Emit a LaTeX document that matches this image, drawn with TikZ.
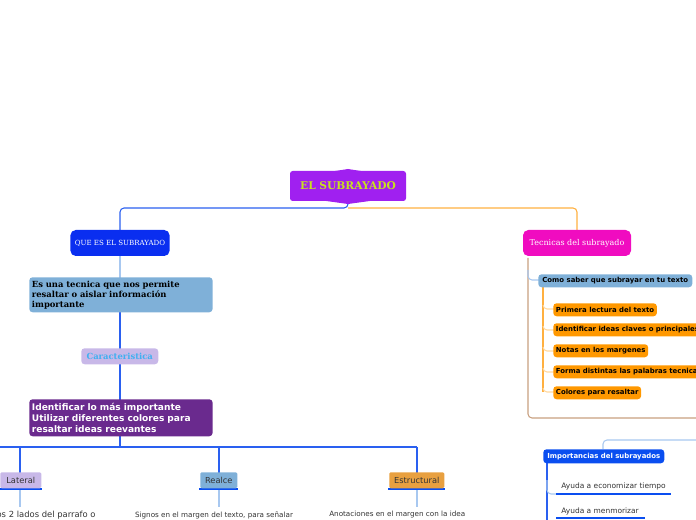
\documentclass[tikz,border=0pt]{standalone}
\usepackage{fontspec}
\setmainfont{DejaVu Sans}
\newfontfamily\serifb{DejaVu Serif}
\usetikzlibrary{shapes.geometric}
\definecolor{tpurple}{HTML}{A020F0}
\definecolor{tyel}{HTML}{C8E020}
\definecolor{qblue}{HTML}{0A2EF0}
\definecolor{lblue}{HTML}{7FB0D8}
\definecolor{lav}{HTML}{C8B8E8}
\definecolor{cyanish}{HTML}{40B0F0}
\definecolor{dpurple}{HTML}{6A2A8E}
\definecolor{orng}{HTML}{E8A040}
\definecolor{magen}{HTML}{F00CC0}
\definecolor{itor}{HTML}{FF9800}
\definecolor{impblue}{HTML}{0A4EF0}
\definecolor{lineblue}{HTML}{2A60F0}
\definecolor{paleblue}{HTML}{A8C8F0}
\definecolor{lineor}{HTML}{FFB040}
\definecolor{paleor}{HTML}{FFD8A0}
\definecolor{tan}{HTML}{C8A080}
\tikzset{
 box/.style={rounded corners=2.5pt,inner sep=2pt,anchor=north west},
 sm/.style={font=\fontsize{5.2pt}{6pt}\selectfont\bfseries},
 ln/.style={line width=0.8pt,rounded corners=3pt},
}
\begin{document}
\begin{tikzpicture}[x=0.75pt,y=-0.75pt]
\useasboundingbox (0,0) rectangle (696,520);
% connectors first
\draw[ln,lineblue] (348,203) -- (348,208) -- (120,208) -- (120,232);
\draw[ln,lineor] (348,208) -- (577,208) -- (577,232);
\draw[ln,paleblue] (120,256) -- (120,278);
\draw[ln,lineblue] (120,312) -- (120,349);
\draw[ln,lineblue] (120,364) -- (120,400);
\draw[line width=1.4pt,lineblue] (120,436) -- (120,447);
\draw[ln,lineblue] (0,447) -- (417,447);
\draw[ln,lineblue] (20,447) -- (20,473);
\draw[ln,lineblue] (219,447) -- (219,473);
\draw[ln,lineblue] (417,447) -- (417,473);
\draw[line width=0.8pt,paleblue] (20,489) -- (20,507) (219,489) -- (219,507) (417,489) -- (417,507);
\draw[line width=2pt,impblue] (0,489) -- (42,489) (199,489) -- (238,489) (388,489) -- (445,489);
% right side
\draw[ln,tan] (528,258) -- (528,418) -- (696,418);
\draw[ln,paleblue] (528,270) -- (528,280) -- (539,280);
\draw[ln,lineor] (543,287) -- (543,392);
\foreach \y in {309,330,351,372,392} \draw[ln,paleor] (543,\y-4) -- (543,\y) -- (554,\y);
\draw[ln,paleblue] (603,449) -- (603,440) -- (696,440);
\draw[line width=1.4pt,lineblue] (547,463) -- (547,520);
\draw[ln,paleblue] (547,480) -- (547,494) -- (558,494);
\draw[line width=2pt,impblue] (556,494) -- (671,494) (556,518) -- (645,518);
% nodes
\node[fill=tpurple,draw=none,minimum width=116*0.75pt,minimum height=30*0.75pt,rounded corners=2pt,
 font=\serifb\fontsize{8pt}{8pt}\selectfont\bfseries,text=tyel] (title) at (348,186) {EL SUBRAYADO};
\fill[tpurple] (290,178) -- (348,169) -- (406,178) -- cycle (290,196) -- (348,204) -- (406,196) -- cycle;
\node[fill=qblue,text=white,rounded corners=4pt,minimum width=97*0.75pt,minimum height=26*0.75pt,
 font=\serifb\fontsize{5.3pt}{6pt}\selectfont] (que) at (120,243) {QUE ES EL SUBRAYADO};
\node[box,fill=lblue,text width=178*0.75pt,minimum height=35*0.75pt,align=left,
 font=\serifb\fontsize{6.3pt}{7.5pt}\selectfont\bfseries] (es) at (29,277) {Es una tecnica que nos permite\\resaltar o aislar información\\importante};
\node[box,fill=lav,text=cyanish,minimum width=77*0.75pt,minimum height=16*0.75pt,
 font=\serifb\fontsize{6.3pt}{7pt}\selectfont\bfseries] (car) at (81,348) {Caracteristica};
\node[box,fill=dpurple,text=white,text width=178*0.75pt,minimum height=37*0.75pt,align=left,
 font=\fontsize{6.8pt}{8.2pt}\selectfont\bfseries] (ident) at (29,399) {Identificar lo más importante\\Utilizar diferentes colores para\\resaltar ideas reevantes};
\node[box,fill=lav,rounded corners=1pt,minimum width=41*0.75pt,minimum height=16*0.75pt,font=\fontsize{6.2pt}{7pt}\selectfont,text=black!80] (lat) at (0,472) {Lateral};
\node[box,fill=lblue,rounded corners=1pt,minimum width=37*0.75pt,minimum height=16*0.75pt,font=\fontsize{6.2pt}{7pt}\selectfont,text=black!80] (real) at (200,472) {Realce};
\node[box,fill=orng,rounded corners=1pt,minimum width=55*0.75pt,minimum height=16*0.75pt,font=\fontsize{6.2pt}{7pt}\selectfont,text=black!80] (est) at (389,472) {Estructural};
\node[anchor=west,inner sep=0,font=\fontsize{6.3pt}{7pt}\selectfont,text=black!80] (t1) at (-6,515) {los 2 lados del parrafo o};
\node[inner sep=0,font=\fontsize{5.4pt}{6pt}\selectfont,text=black!80] (t2) at (214,515) {Signos en el margen del texto, para señalar};
\node[anchor=west,inner sep=0,font=\fontsize{5.4pt}{6pt}\selectfont,text=black!80] (t3) at (329,515) {Anotaciones en el margen con la idea};
\node[fill=magen,text=white,rounded corners=4pt,minimum width=108*0.75pt,minimum height=26*0.75pt,
 font=\serifb\fontsize{6pt}{7pt}\selectfont] (tec) at (577,243) {Tecnicas del subrayado};
\node[box,fill=lblue,minimum width=154*0.75pt,minimum height=13*0.75pt,sm] (como) at (538,274) {Como saber que subrayar en tu texto};
\node[box,fill=itor,minimum height=13*0.75pt,sm] (i1) at (553,303) {Primera lectura del texto};
\node[box,fill=itor,minimum height=13*0.75pt,sm] (i2) at (553,323) {Identificar ideas claves o principales};
\node[box,fill=itor,minimum height=13*0.75pt,sm] (i3) at (553,344) {Notas en los margenes};
\node[box,fill=itor,minimum height=13*0.75pt,sm] (i4) at (553,365) {Forma distintas las palabras tecnicas};
\node[box,fill=itor,minimum height=13*0.75pt,sm] (i5) at (553,386) {Colores para resaltar};
\node[box,fill=impblue,text=white,minimum width=121*0.75pt,minimum height=14*0.75pt,sm] (imp) at (543,449) {Importancias del subrayados};
\node[anchor=west,inner sep=0,font=\fontsize{5.6pt}{6pt}\selectfont,text=black!80] (a1) at (561,486) {Ayuda a economizar tiempo};
\node[anchor=west,inner sep=0,font=\fontsize{5.6pt}{6pt}\selectfont,text=black!80] (a2) at (561,511) {Ayuda a menmorizar};
\end{tikzpicture}
\end{document}
